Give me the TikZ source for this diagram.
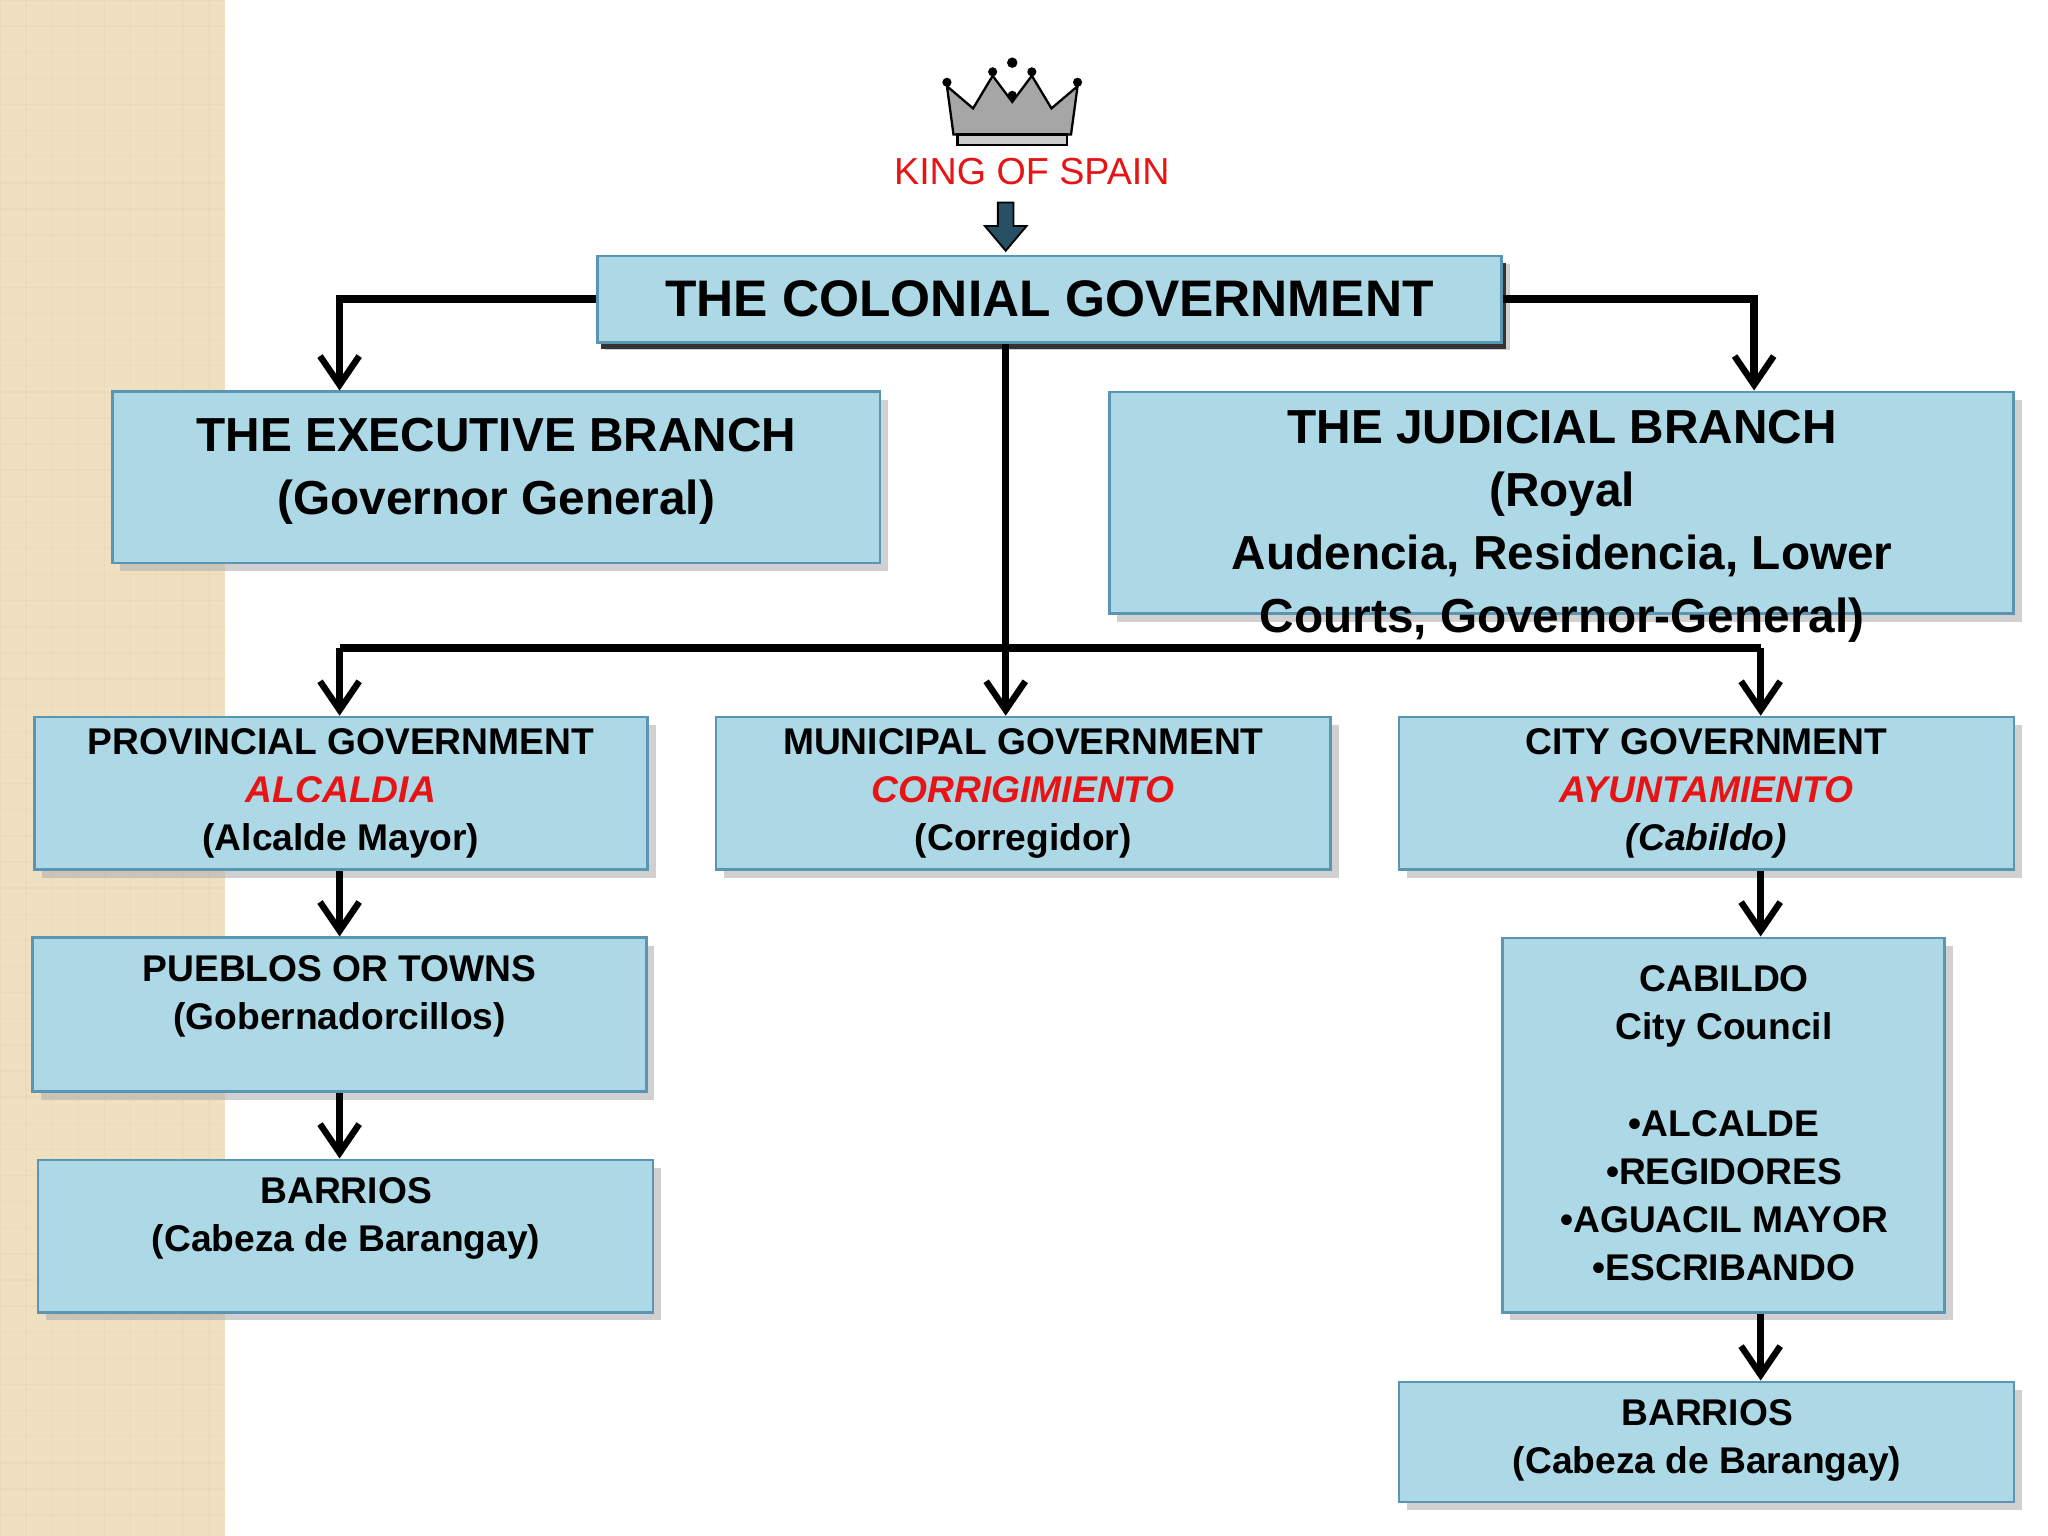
\documentclass[tikz,border=0pt]{standalone}
\usepackage{fontspec}
\setmainfont{Liberation Sans}
\usetikzlibrary{arrows.meta,shadows}
\definecolor{boxfill}{RGB}{173,216,230}
\definecolor{boxline}{RGB}{90,150,180}
\definecolor{beige}{RGB}{238,224,192}
\definecolor{kred}{RGB}{230,20,20}
\definecolor{teal}{RGB}{40,80,100}
\tikzset{
  bx/.style={draw=boxline,line width=0.6pt,fill=boxfill,inner sep=0pt,align=center,font=\bfseries,
    drop shadow={shadow xshift=0.06cm,shadow yshift=-0.06cm,fill=gray!60,opacity=0.6}},
  big/.style={font=\bfseries\fontsize{10.4}{13.7}\selectfont},
  sm/.style={font=\bfseries\fontsize{8.1}{10.5}\selectfont},
  conn/.style={line width=1.6pt,black},
  arr/.style={conn,-{Straight Barb[length=2.2mm,width=3mm,line width=1.4pt]}},
}
\newcommand{\bxat}[6]{% name, x1,y1,x2,y2, style
  \node[bx,#6,minimum width={(#4-#2)*0.01cm},minimum height={(#5-#3)*0.01cm}] (#1) at ({(#2+#4)/200},{-(#3+#5)/200}) {};}
\begin{document}
\begin{tikzpicture}
\useasboundingbox (0,0) rectangle (15.68,-11.76);
\fill[white] (0,0) rectangle (15.68,-11.76);
\fill[beige] (0,0) rectangle (1.72,-11.76);
\foreach \i in {0,...,58}{\draw[beige!80!brown,opacity=0.25,line width=0.3pt] (0,-\i*0.2) -- (1.72,-\i*0.2);}
\foreach \i in {0,...,8}{\draw[beige!80!brown,opacity=0.25,line width=0.3pt] (\i*0.2,0) -- (\i*0.2,-11.76);}
% crown
\begin{scope}[shift={(7.75,-0.78)}]
\fill[gray!70,draw=black,line width=0.5pt] (-0.45,-0.25) -- (-0.5,0.12) -- (-0.3,-0.05) -- (-0.15,0.2) -- (0,0) -- (0.15,0.2) -- (0.3,-0.05) -- (0.5,0.12) -- (0.45,-0.25) -- cycle;
\fill[gray!40,draw=black,line width=0.5pt] (-0.42,-0.25) rectangle (0.42,-0.33);
\foreach \x/\y in {-0.5/0.15,-0.15/0.23,0.15/0.23,0.5/0.15,0/0.05}{\fill[black] (\x,\y) circle (0.035);}
\fill[black] (0,0.3) circle(0.04);
\end{scope}
\node[font=\fontsize{8.2}{10}\selectfont,text=kred] (king) at (7.9,-1.31) {KING OF SPAIN};
\coordinate (ka) at (7.7,-1.55);
\coordinate (kb) at (7.7,-1.92);
\fill[teal,draw=black,line width=0.4pt] (7.64,-1.55) -- (7.76,-1.55) -- (7.76,-1.73) -- (7.86,-1.73) -- (7.7,-1.92) -- (7.54,-1.73) -- (7.64,-1.73) -- cycle;
% boxes
\bxat{col}{457}{196}{1150}{262}{drop shadow={shadow xshift=0.03cm,shadow yshift=-0.05cm,fill=black!80,opacity=1}}
\node[font=\bfseries\fontsize{11.2}{13}\selectfont] at (col) {THE COLONIAL GOVERNMENT};
\bxat{exe}{86}{300}{674}{431}{}
\node[big,align=center] at ([yshift=0.05cm]exe) {THE EXECUTIVE BRANCH\\(Governor General)};
\bxat{jud}{849}{300}{1542}{470}{}
\node[big,align=center] at (11.96,-4.03) {THE JUDICIAL BRANCH\\(Royal\\Audencia, Residencia, Lower\\Courts, Governor-General)};
\bxat{prov}{26}{549}{496}{666}{}
\node[sm,align=center] at (prov) {PROVINCIAL GOVERNMENT\\{\color{kred}\itshape ALCALDIA}\\(Alcalde Mayor)};
\bxat{mun}{548}{549}{1019}{666}{}
\node[sm,align=center] at (mun) {MUNICIPAL GOVERNMENT\\{\color{kred}\itshape CORRIGIMIENTO}\\(Corregidor)};
\bxat{city}{1071}{549}{1542}{666}{}
\node[sm,align=center] at (city) {CITY GOVERNMENT\\{\color{kred}\itshape AYUNTAMIENTO}\\{\itshape (Cabildo)}};
\bxat{pue}{25}{718}{495}{836}{}
\node[sm,align=center] at (2.6,-7.63) {PUEBLOS OR TOWNS\\(Gobernadorcillos)};
\bxat{barl}{29}{888}{500}{1005}{}
\node[sm,align=center] at (2.65,-9.33) {BARRIOS\\(Cabeza de Barangay)};
\bxat{cab}{1150}{718}{1489}{1005}{}
\node[sm,align=center] at (13.2,-8.6) {CABILDO\\City Council\\[10.5pt]•ALCALDE\\•REGIDORES\\•AGUACIL MAYOR\\•ESCRIBANDO};
\bxat{barr}{1071}{1058}{1542}{1150}{}
\node[sm,align=center] at (13.07,-11.03) {BARRIOS\\(Cabeza de Barangay)};
% connectors
\draw[arr] (col.west) -| (exe.north -| 2.6,0);
\draw[arr] (col.east) -| (jud.north -| 13.43,0);
\coordinate (hl) at (2.6,-4.96);
\coordinate (hr) at (13.48,-4.96);
\draw[conn] (hl) -- (hr);
\draw[arr] (col.south -| 7.7,0) -- (mun.north -| 7.7,0);
\draw[arr] (hl) -- (prov.north -| hl);
\draw[arr] (hr) -- (city.north -| hr);
\draw[arr] (prov.south -| 2.6,0) -- (pue.north -| 2.6,0);
\draw[arr] (pue.south -| 2.6,0) -- (barl.north -| 2.6,0);
\draw[arr] (city.south -| 13.48,0) -- (cab.north -| 13.48,0);
\draw[arr] (cab.south -| 13.48,0) -- (barr.north -| 13.48,0);
\end{tikzpicture}
\end{document}
